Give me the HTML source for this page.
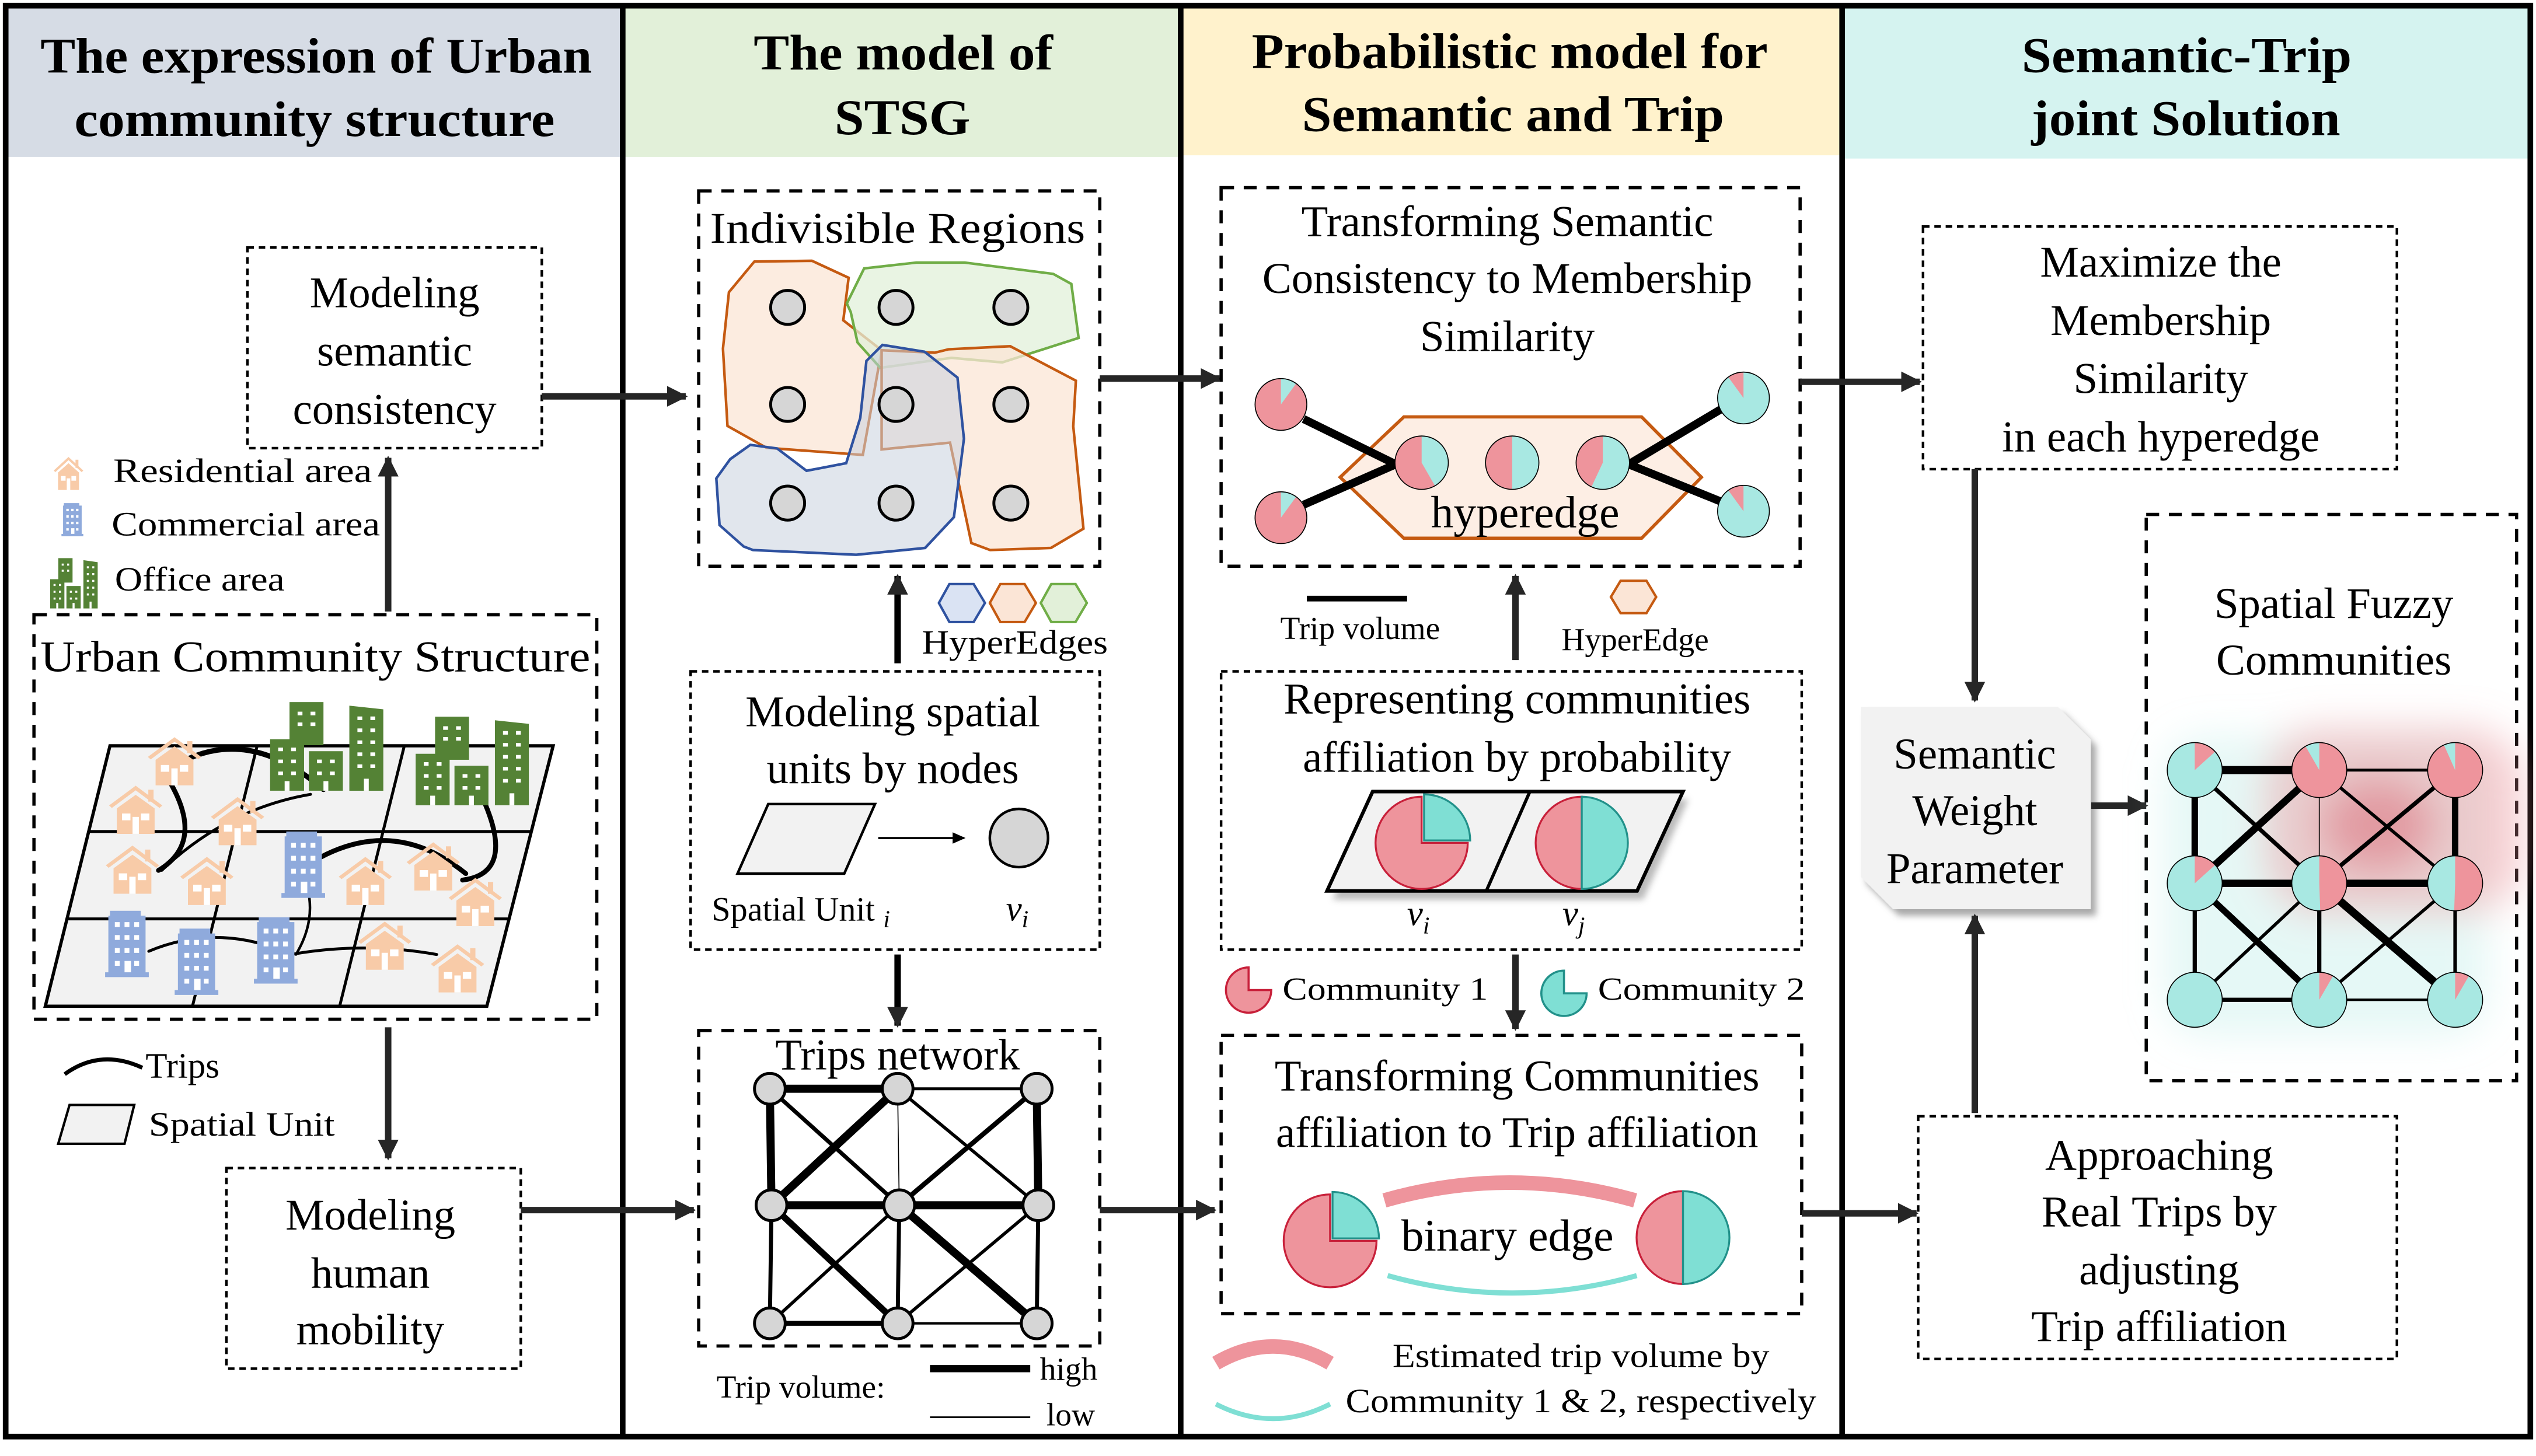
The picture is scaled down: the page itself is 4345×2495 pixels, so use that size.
<!DOCTYPE html>
<html><head><meta charset="utf-8">
<style>
html,body{margin:0;padding:0;background:#fff;}
svg{display:block;}
text{font-family:"Liberation Serif",serif;fill:#000;}
</style></head>
<body>
<svg xmlns="http://www.w3.org/2000/svg" width="4345" height="2495" viewBox="0 0 1568 900" preserveAspectRatio="none" font-family="Liberation Serif, serif">
<defs>
<marker id="ah" viewBox="0 0 10 10" refX="9" refY="5" markerWidth="3.2" markerHeight="3.2" orient="auto-start-reverse">
<path d="M0,0 L10,5 L0,10 Z" fill="#262626"/></marker>
<filter id="blurP" x="-50%" y="-50%" width="200%" height="200%"><feGaussianBlur stdDeviation="12"/></filter>
<filter id="blurS" x="-20%" y="-20%" width="140%" height="140%"><feGaussianBlur stdDeviation="2"/></filter>
<g id="house">
<path d="M1,13 L13,2 L25,13" fill="none" stroke="#f8cba8" stroke-width="2"/>
<rect x="19" y="3" width="2.5" height="7" fill="#f8cba8"/>
<path d="M4,14 L13,6 L22,14 V29 H4Z" fill="#f8cba8"/>
<rect x="6.5" y="17" width="4" height="4" fill="#fff"/><rect x="15.5" y="17" width="4" height="4" fill="#fff"/>
<rect x="11.5" y="19" width="3" height="10" fill="#fff"/>
</g>
<g id="blueb">
<path d="M3,2 H22 V5 H25 V40 H27 V43 H0 V40 H2 V5 H3Z" fill="#8faadc"/>
<g fill="#fff"><rect x="6" y="9" width="3" height="3"/><rect x="12" y="9" width="3" height="3"/><rect x="18" y="9" width="3" height="3"/>
<rect x="6" y="17" width="3" height="3"/><rect x="12" y="17" width="3" height="3"/><rect x="18" y="17" width="3" height="3"/>
<rect x="6" y="25" width="3" height="3"/><rect x="12" y="25" width="3" height="3"/><rect x="18" y="25" width="3" height="3"/>
<rect x="6" y="33" width="3" height="3"/><rect x="12" y="33" width="4" height="7"/><rect x="18" y="33" width="3" height="3"/></g>
</g>
<g id="greenb">
<rect x="12" y="0" width="21" height="36" fill="#548235"/>
<rect x="0" y="31" width="21" height="43" fill="#548235"/>
<rect x="24" y="41" width="21" height="33" fill="#548235"/>
<path d="M49,3 L70,6 V74 H49Z" fill="#548235"/>
<g fill="#fff"><rect x="17" y="8" width="3" height="3"/><rect x="25" y="8" width="3" height="3"/><rect x="17" y="17" width="3" height="3"/><rect x="25" y="17" width="3" height="3"/>
<rect x="5" y="38" width="3" height="3"/><rect x="13" y="38" width="3" height="3"/><rect x="5" y="48" width="3" height="3"/><rect x="13" y="48" width="3" height="3"/><rect x="5" y="58" width="3" height="3"/><rect x="13" y="58" width="3" height="3"/><rect x="9" y="66" width="3" height="8"/>
<rect x="29" y="48" width="3" height="3"/><rect x="37" y="48" width="3" height="3"/><rect x="29" y="58" width="3" height="3"/><rect x="37" y="58" width="3" height="3"/><rect x="33" y="66" width="3" height="8"/>
<rect x="54" y="12" width="3" height="3"/><rect x="62" y="12" width="3" height="3"/><rect x="54" y="22" width="3" height="3"/><rect x="62" y="22" width="3" height="3"/><rect x="54" y="32" width="3" height="3"/><rect x="62" y="32" width="3" height="3"/><rect x="54" y="42" width="3" height="3"/><rect x="62" y="42" width="3" height="3"/><rect x="54" y="52" width="3" height="3"/><rect x="62" y="52" width="3" height="3"/><rect x="58" y="64" width="3" height="10"/></g>
</g>
</defs>

<rect x="3" y="5" width="383" height="92" fill="#d6dce5"/>
<rect x="386" y="5" width="344" height="92" fill="#e2f0d9"/>
<rect x="730" y="5" width="409" height="91" fill="#fff2cc"/>
<rect x="1139" y="5" width="426" height="93" fill="#d5f3f0"/>

<rect x="3.5" y="3.5" width="1561" height="884.5" fill="none" stroke="#000" stroke-width="3.5"/>
<line x1="385" y1="3" x2="385" y2="888" stroke="#000" stroke-width="3.5"/>
<line x1="730" y1="3" x2="730" y2="888" stroke="#000" stroke-width="3.5"/>
<line x1="1139" y1="3" x2="1139" y2="888" stroke="#000" stroke-width="3.5"/>

<g font-weight="bold" font-size="31">
<text x="25" y="45" textLength="341" lengthAdjust="spacingAndGlyphs">The expression of Urban</text>
<text x="46" y="84" textLength="297" lengthAdjust="spacingAndGlyphs">community structure</text>
<text x="466" y="43" textLength="185" lengthAdjust="spacingAndGlyphs">The model of</text>
<text x="516" y="83" textLength="84" lengthAdjust="spacingAndGlyphs">STSG</text>
<text x="774" y="42" textLength="319" lengthAdjust="spacingAndGlyphs">Probabilistic model for</text>
<text x="805" y="81" textLength="261" lengthAdjust="spacingAndGlyphs">Semantic and Trip</text>
<text x="1250" y="44.5" textLength="204" lengthAdjust="spacingAndGlyphs">Semantic-Trip</text>
<text x="1256" y="83.5" textLength="191" lengthAdjust="spacingAndGlyphs">joint Solution</text>
</g>

<!-- COLUMN 1 -->
<rect x="153" y="153" width="182" height="124" fill="none" stroke="#000" stroke-width="1.6" stroke-dasharray="4 3"/>
<g font-size="27" text-anchor="middle">
<text x="244" y="190">Modeling</text><text x="244" y="226">semantic</text><text x="244" y="262">consistency</text>
</g>
<line x1="335" y1="245" x2="424" y2="245" stroke="#262626" stroke-width="4" marker-end="url(#ah)"/>

<use href="#house" transform="translate(33,282) scale(0.72)"/>
<use href="#blueb" transform="translate(38,310) scale(0.5)"/>
<use href="#greenb" transform="translate(31,345) scale(0.42)"/>
<g font-size="21">
<text x="70" y="298" textLength="160" lengthAdjust="spacingAndGlyphs">Residential area</text>
<text x="69" y="331" textLength="166" lengthAdjust="spacingAndGlyphs">Commercial area</text>
<text x="71" y="365" textLength="105" lengthAdjust="spacingAndGlyphs">Office area</text>
</g>
<line x1="240" y1="378" x2="240" y2="283" stroke="#262626" stroke-width="4" marker-end="url(#ah)"/>

<rect x="21" y="380" width="348" height="250" fill="none" stroke="#000" stroke-width="2" stroke-dasharray="8 6"/>
<text x="195" y="415" font-size="27" text-anchor="middle" textLength="340" lengthAdjust="spacingAndGlyphs">Urban Community Structure</text>
<path d="M68,461 L342,461 L301,622 L28,622 Z" fill="#f2f2f2" stroke="#000" stroke-width="2"/>
<g stroke="#000" stroke-width="1.8" fill="none">
<line x1="55" y1="514" x2="328" y2="514"/>
<line x1="41" y1="568" x2="315" y2="568"/>
<line x1="159" y1="461" x2="119" y2="622"/>
<line x1="250" y1="461" x2="210" y2="622"/>
</g>
<g stroke="#000" fill="none" stroke-linecap="round">
<path d="M104,476 Q150,445 200,488" stroke-width="3.2"/>
<path d="M103,480 Q128,520 98,538" stroke-width="3"/>
<path d="M100,538 Q140,500 192,491" stroke-width="1.8"/>
<path d="M198,530 Q245,505 288,540" stroke-width="3"/>
<path d="M300,497 Q318,540 286,544" stroke-width="3"/>
<path d="M92,588 Q135,570 180,590 Q225,582 270,590" stroke-width="1.8"/>
<path d="M187,540 Q198,565 183,590" stroke-width="1.6"/>
</g>
<use href="#greenb" transform="translate(167,434) scale(1.0,0.74)"/>
<use href="#greenb" transform="translate(257,443) scale(1.0,0.74)"/>
<use href="#house" transform="translate(91,455) scale(1.3,1.05)"/>
<use href="#house" transform="translate(67,485) scale(1.3,1.05)"/>
<use href="#house" transform="translate(130,492) scale(1.3,1.05)"/>
<use href="#house" transform="translate(65,522) scale(1.3,1.05)"/>
<use href="#house" transform="translate(111,529) scale(1.3,1.05)"/>
<use href="#house" transform="translate(209,529) scale(1.3,1.05)"/>
<use href="#house" transform="translate(251,520) scale(1.3,1.05)"/>
<use href="#house" transform="translate(277,542) scale(1.3,1.05)"/>
<use href="#house" transform="translate(221,569) scale(1.3,1.05)"/>
<use href="#house" transform="translate(266,583) scale(1.3,1.05)"/>
<use href="#blueb" transform="translate(174,512)"/>
<use href="#blueb" transform="translate(65,561)"/>
<use href="#blueb" transform="translate(108,572)"/>
<use href="#blueb" transform="translate(157,565)"/>

<path d="M40,664 Q62,648 88,660" stroke="#000" stroke-width="2.5" fill="none"/>
<text x="90" y="666" font-size="22">Trips</text>
<path d="M43,683 L83,683 L77,707 L36,707 Z" fill="#f2f2f2" stroke="#000" stroke-width="1.5"/>
<text x="92" y="702" font-size="21" textLength="115" lengthAdjust="spacingAndGlyphs">Spatial Unit</text>

<line x1="240" y1="635" x2="240" y2="716" stroke="#262626" stroke-width="4" marker-end="url(#ah)"/>
<rect x="140" y="722" width="182" height="124" fill="none" stroke="#000" stroke-width="1.6" stroke-dasharray="4 3"/>
<g font-size="27" text-anchor="middle">
<text x="229" y="760">Modeling</text><text x="229" y="796">human</text><text x="229" y="831">mobility</text>
</g>
<line x1="322" y1="748" x2="429" y2="748" stroke="#262626" stroke-width="4" marker-end="url(#ah)"/>

<!-- COLUMN 2 -->
<rect x="432" y="118" width="248" height="232" fill="none" stroke="#000" stroke-width="2" stroke-dasharray="8 6"/>
<text x="555" y="150" font-size="27" text-anchor="middle" textLength="232" lengthAdjust="spacingAndGlyphs">Indivisible Regions</text>
<polygon points="466.4,161.7 502,161.2 524.7,171.7 521.4,198 545.1,216.5 533.5,281.2 473.9,276.8 449.8,263.3 447,215.5 450.7,180.6" fill="#fbe5d6" fill-opacity="0.75" stroke="#c55a11" stroke-width="1.6"/>
<polygon points="534.3,165.9 566.6,162.3 596.5,162.3 651.2,169.3 662.4,175.5 666.9,208.9 619.7,224 588.2,221.2 544.3,227.4 530.2,211.7 526,192.9 523.6,187.6" fill="#e2f0d9" fill-opacity="0.75" stroke="#70ad47" stroke-width="1.6"/>
<polygon points="545.1,216.5 577.9,218 586.5,215.9 624.6,214 665.2,235.3 663.6,263.6 669.9,326.8 649.8,338.7 612.2,340 600.6,335.7 587.4,273.6 545.1,277.8" fill="#fbe5d6" fill-opacity="0.75" stroke="#c55a11" stroke-width="1.6"/>
<polygon points="545.6,213.2 571.6,217.4 592,233.4 596,271.2 589.8,319.7 572,338.7 529.4,342.9 465.6,340 459.8,337.8 444.9,324.6 442.9,295.7 451.5,283.8 463.9,275 480.5,277.2 498.7,291 523.2,286.3 531.9,258.3 535.7,223.1" fill="#c9d1de" fill-opacity="0.55" stroke="#2f52a0" stroke-width="1.6"/>
<g fill="#d6d6d6" stroke="#000" stroke-width="1.8">
<circle cx="487" cy="190" r="10.5"/><circle cx="554" cy="190" r="10.5"/><circle cx="625" cy="190" r="10.5"/>
<circle cx="487" cy="250" r="10.5"/><circle cx="554" cy="250" r="10.5"/><circle cx="625" cy="250" r="10.5"/>
<circle cx="487" cy="311" r="10.5"/><circle cx="554" cy="311" r="10.5"/><circle cx="625" cy="311" r="10.5"/>
</g>
<polygon points="580.5,372.7 587,361 602,361 609,372.7 602,384.5 587,384.5" fill="#dae3f3" stroke="#2f52a0" stroke-width="1.5"/>
<polygon points="612,372.7 618.5,361 633.5,361 640.5,372.7 633.5,384.5 618.5,384.5" fill="#fbe5d6" stroke="#c55a11" stroke-width="1.5"/>
<polygon points="643.5,372.7 650,361 665,361 672,372.7 665,384.5 650,384.5" fill="#e2f0d9" stroke="#70ad47" stroke-width="1.5"/>
<text x="570" y="404" font-size="21" textLength="115" lengthAdjust="spacingAndGlyphs">HyperEdges</text>
<line x1="555" y1="410" x2="555" y2="356" stroke="#000" stroke-width="4" marker-end="url(#ah)"/>

<rect x="427" y="415" width="253" height="172" fill="none" stroke="#000" stroke-width="1.6" stroke-dasharray="4 3"/>
<g font-size="27" text-anchor="middle"><text x="552" y="449">Modeling spatial</text><text x="552" y="484">units by nodes</text></g>
<path d="M475,497 L541,497 L522,540 L456,540 Z" fill="#f2f2f2" stroke="#000" stroke-width="1.6"/>
<line x1="543" y1="518" x2="596" y2="518" stroke="#000" stroke-width="1.3"/>
<path d="M597,518 L589,514.5 L589,521.5 Z" fill="#000"/>
<circle cx="630" cy="518" r="18" fill="#d6d6d6" stroke="#000" stroke-width="1.6"/>
<text x="440" y="569" font-size="21">Spatial Unit <tspan font-style="italic" font-size="15" dy="4">i</tspan></text>
<text x="622" y="569" font-size="22" font-style="italic">v<tspan font-size="15" dy="4">i</tspan></text>
<line x1="555" y1="590" x2="555" y2="634" stroke="#000" stroke-width="4" marker-end="url(#ah)"/>

<rect x="432" y="637" width="248" height="195" fill="none" stroke="#000" stroke-width="2" stroke-dasharray="8 6"/>
<text x="555" y="661" font-size="27" text-anchor="middle">Trips network</text>
<g stroke="#000" stroke-linecap="round">
<line x1="476" y1="673" x2="555" y2="673" stroke-width="5"/>
<line x1="555" y1="673" x2="641" y2="673" stroke-width="1.8"/>
<line x1="476" y1="673" x2="477" y2="745" stroke-width="5"/>
<line x1="641" y1="673" x2="642" y2="745" stroke-width="5"/>
<line x1="555" y1="673" x2="556" y2="745" stroke-width="0.6"/>
<line x1="476" y1="673" x2="556" y2="745" stroke-width="2.5"/>
<line x1="555" y1="673" x2="477" y2="745" stroke-width="5"/>
<line x1="555" y1="673" x2="642" y2="745" stroke-width="2"/>
<line x1="641" y1="673" x2="556" y2="745" stroke-width="3"/>
<line x1="477" y1="745" x2="642" y2="745" stroke-width="5"/>
<line x1="477" y1="745" x2="476" y2="818" stroke-width="2.5"/>
<line x1="556" y1="745" x2="555" y2="818" stroke-width="2.5"/>
<line x1="642" y1="745" x2="641" y2="818" stroke-width="2.5"/>
<line x1="477" y1="745" x2="555" y2="818" stroke-width="4"/>
<line x1="556" y1="745" x2="476" y2="818" stroke-width="2"/>
<line x1="556" y1="745" x2="641" y2="818" stroke-width="5"/>
<line x1="642" y1="745" x2="555" y2="818" stroke-width="2"/>
<line x1="476" y1="818" x2="555" y2="818" stroke-width="3"/>
<line x1="555" y1="818" x2="641" y2="818" stroke-width="1.5"/>
</g>
<g fill="#d6d6d6" stroke="#000" stroke-width="1.8">
<circle cx="476" cy="673" r="9.5"/><circle cx="555" cy="673" r="9.5"/><circle cx="641" cy="673" r="9.5"/>
<circle cx="477" cy="745" r="9.5"/><circle cx="556" cy="745" r="9.5"/><circle cx="642" cy="745" r="9.5"/>
<circle cx="476" cy="818" r="9.5"/><circle cx="555" cy="818" r="9.5"/><circle cx="641" cy="818" r="9.5"/>
</g>
<text x="443" y="864" font-size="20">Trip volume:</text>
<line x1="575" y1="846" x2="637" y2="846" stroke="#000" stroke-width="4.5"/>
<line x1="575" y1="876" x2="637" y2="876" stroke="#000" stroke-width="1"/>
<text x="643" y="853" font-size="20">high</text>
<text x="647" y="881" font-size="20">low</text>

<line x1="680" y1="234" x2="754" y2="234" stroke="#262626" stroke-width="4" marker-end="url(#ah)"/>
<line x1="680" y1="748" x2="751" y2="748" stroke="#262626" stroke-width="4" marker-end="url(#ah)"/>

<!-- COLUMN 3 -->
<rect x="755" y="116" width="358" height="234" fill="none" stroke="#000" stroke-width="2" stroke-dasharray="8 6"/>
<g font-size="27" text-anchor="middle">
<text x="932" y="146">Transforming Semantic</text>
<text x="932" y="181">Consistency to Membership</text>
<text x="932" y="217">Similarity</text>
</g>
<polygon points="828.6,295 868,257.7 1015,257.7 1052,295 1015,332.7 868,332.7" fill="#fdeee4" stroke="#c55a11" stroke-width="2"/>
<g stroke="#000" stroke-width="5">
<line x1="806" y1="259" x2="863" y2="287"/><line x1="806" y1="312" x2="863" y2="287"/>
<line x1="1064" y1="253" x2="1007" y2="287"/><line x1="1064" y1="310" x2="1007" y2="287"/>
</g>
<text x="943" y="326" font-size="28" text-anchor="middle">hyperedge</text>
<g id="pies"></g>
<line x1="808" y1="370" x2="870" y2="370" stroke="#000" stroke-width="3.5"/>
<text x="841" y="395" font-size="20" text-anchor="middle">Trip volume</text>
<polygon points="996,369 1002,359 1018,359 1024,369 1018,379 1002,379" fill="#fbe5d6" stroke="#c55a11" stroke-width="1.5"/>
<text x="1011" y="402" font-size="20" text-anchor="middle">HyperEdge</text>
<line x1="937" y1="408" x2="937" y2="356" stroke="#262626" stroke-width="4" marker-end="url(#ah)"/>

<rect x="755" y="415" width="359" height="172" fill="none" stroke="#000" stroke-width="1.6" stroke-dasharray="4 3"/>
<g font-size="27" text-anchor="middle">
<text x="938" y="441">Representing communities</text>
<text x="938" y="477">affiliation by probability</text>
</g>
<g filter="url(#blurS)" opacity="0.5"><path d="M852,494 L1044,494 L1016,556 L824,556 Z" fill="#777"/></g>
<path d="M848.7,489.3 L1040.6,489.3 L1012.2,550.7 L820.5,550.7 Z" fill="#f2f2f2" stroke="#000" stroke-width="2.2"/>
<line x1="945.6" y1="490" x2="919.3" y2="550" stroke="#000" stroke-width="2"/>
<g id="pies3"></g>
<text x="870" y="572" font-size="22" font-style="italic">v<tspan font-size="15" dy="5">i</tspan></text>
<text x="966" y="572" font-size="22" font-style="italic">v<tspan font-size="15" dy="5">j</tspan></text>
<g font-size="20">
<text x="793" y="618" textLength="127" lengthAdjust="spacingAndGlyphs">Community 1</text>
<text x="988" y="618" textLength="128" lengthAdjust="spacingAndGlyphs">Community 2</text>
</g>
<line x1="937" y1="590" x2="937" y2="636" stroke="#262626" stroke-width="4" marker-end="url(#ah)"/>

<rect x="755" y="640" width="359" height="172" fill="none" stroke="#000" stroke-width="2" stroke-dasharray="8 6"/>
<g font-size="27" text-anchor="middle">
<text x="938" y="674">Transforming Communities</text>
<text x="938" y="709">affiliation to Trip affiliation</text>
</g>
<path d="M856,742 Q933,720 1011,742" stroke="#ee949c" stroke-width="9" fill="none"/>
<path d="M858,788.5 Q935,810 1012,788.5" stroke="#7fdfd4" stroke-width="3.2" fill="none"/>
<text x="932" y="773" font-size="28" text-anchor="middle">binary edge</text>
<path d="M751.8,842.6 Q787,822 822.4,842.6" stroke="#ee949c" stroke-width="9" fill="none"/>
<path d="M751.8,867.9 Q787,886 822.4,867.9" stroke="#7fdfd4" stroke-width="3" fill="none"/>
<g font-size="21">
<text x="861" y="845" textLength="233" lengthAdjust="spacingAndGlyphs">Estimated trip volume by</text>
<text x="832" y="873" textLength="291" lengthAdjust="spacingAndGlyphs">Community 1 &amp; 2, respectively</text>
</g>

<line x1="1113" y1="236" x2="1187" y2="236" stroke="#262626" stroke-width="4" marker-end="url(#ah)"/>
<line x1="1114" y1="750" x2="1185" y2="750" stroke="#262626" stroke-width="4" marker-end="url(#ah)"/>

<!-- COLUMN 4 -->
<rect x="1189" y="140" width="293" height="150" fill="none" stroke="#000" stroke-width="1.6" stroke-dasharray="4 3"/>
<g font-size="27" text-anchor="middle">
<text x="1336" y="171">Maximize the</text><text x="1336" y="207">Membership</text>
<text x="1336" y="243">Similarity</text><text x="1336" y="279">in each hyperedge</text>
</g>
<line x1="1221" y1="290" x2="1221" y2="433" stroke="#262626" stroke-width="4" marker-end="url(#ah)"/>
<g filter="url(#blurS)" opacity="0.5"><path d="M1154,441 H1276 L1296,461 V566 H1174 L1154,546 Z" fill="#555"/></g>
<path d="M1150.5,437 H1272.5 L1292.7,457 V562 H1170.5 L1150.5,542 Z" fill="#f2f2f2"/>
<g font-size="27" text-anchor="middle">
<text x="1221" y="475">Semantic</text><text x="1221" y="510">Weight</text><text x="1221" y="546">Parameter</text>
</g>
<line x1="1293" y1="498" x2="1327" y2="498" stroke="#262626" stroke-width="4" marker-end="url(#ah)"/>
<line x1="1221" y1="688" x2="1221" y2="566" stroke="#262626" stroke-width="4" marker-end="url(#ah)"/>

<rect x="1186" y="690" width="296" height="150" fill="none" stroke="#000" stroke-width="1.6" stroke-dasharray="4 3"/>
<g font-size="27" text-anchor="middle">
<text x="1335" y="723">Approaching</text><text x="1335" y="758">Real Trips by</text>
<text x="1335" y="794">adjusting</text><text x="1335" y="829">Trip affiliation</text>
</g>

<rect x="1327" y="318" width="229" height="350" fill="none" stroke="#000" stroke-width="2" stroke-dasharray="8 6"/>
<g font-size="27" text-anchor="middle">
<text x="1443" y="382">Spatial Fuzzy</text><text x="1443" y="417">Communities</text>
</g>
<g filter="url(#blurP)">
<rect x="1338" y="455" width="200" height="185" rx="25" fill="#a8e8e2" opacity="0.3"/>
<rect x="1400" y="450" width="160" height="115" rx="35" fill="#ee949c" opacity="0.45"/>
<ellipse cx="1470" cy="510" rx="35" ry="28" fill="#d9606e" opacity="0.45"/>
</g>
<g stroke="#000" stroke-linecap="round">
<line x1="1357" y1="476" x2="1434" y2="476" stroke-width="5"/>
<line x1="1434" y1="476" x2="1518" y2="476" stroke-width="1.8"/>
<line x1="1357" y1="476" x2="1357" y2="546" stroke-width="4"/>
<line x1="1518" y1="476" x2="1518" y2="546" stroke-width="4"/>
<line x1="1434" y1="476" x2="1434" y2="546" stroke-width="0.6"/>
<line x1="1357" y1="476" x2="1434" y2="546" stroke-width="2.6"/>
<line x1="1434" y1="476" x2="1357" y2="546" stroke-width="4.5"/>
<line x1="1434" y1="476" x2="1518" y2="546" stroke-width="2"/>
<line x1="1518" y1="476" x2="1434" y2="546" stroke-width="2.6"/>
<line x1="1357" y1="546" x2="1518" y2="546" stroke-width="4.5"/>
<line x1="1357" y1="546" x2="1357" y2="618" stroke-width="2.6"/>
<line x1="1434" y1="546" x2="1434" y2="618" stroke-width="2.6"/>
<line x1="1518" y1="546" x2="1518" y2="618" stroke-width="2.2"/>
<line x1="1357" y1="546" x2="1434" y2="618" stroke-width="4"/>
<line x1="1434" y1="546" x2="1357" y2="618" stroke-width="2"/>
<line x1="1434" y1="546" x2="1518" y2="618" stroke-width="5"/>
<line x1="1518" y1="546" x2="1434" y2="618" stroke-width="2"/>
<line x1="1357" y1="618" x2="1434" y2="618" stroke-width="2.6"/>
<line x1="1434" y1="618" x2="1518" y2="618" stroke-width="1.5"/>
</g>
<g id="pies2"></g>
</svg>
<script>
var NS="http://www.w3.org/2000/svg";
var PK="#ee949c", CY="#a8e8e2", CY2="#7fdfd4";
function el(parent,tag,attrs){var e=document.createElementNS(NS,tag);for(var k in attrs)e.setAttribute(k,attrs[k]);parent.appendChild(e);return e;}
function wedge(cx,cy,r,a0,a1){
  var t0=a0*Math.PI/180,t1=a1*Math.PI/180;
  var x0=cx+r*Math.sin(t0),y0=cy-r*Math.cos(t0),x1=cx+r*Math.sin(t1),y1=cy-r*Math.cos(t1);
  var large=(a1-a0)>180?1:0;
  return "M"+cx+","+cy+" L"+x0+","+y0+" A"+r+","+r+" 0 "+large+" 1 "+x1+","+y1+" Z";
}
function pie(g,cx,cy,r,base,other,a0,a1,stroke,sw){
  el(g,"circle",{cx:cx,cy:cy,r:r,fill:base});
  if(a1>a0) el(g,"path",{d:wedge(cx,cy,r,a0,a1),fill:other});
  el(g,"circle",{cx:cx,cy:cy,r:r,fill:"none",stroke:stroke||"#000","stroke-width":sw||0.6});
}
var g=document.getElementById("pies");
pie(g,792,250,16,PK,CY,0,36);
pie(g,792,320,16,PK,CY,0,36);
pie(g,1078,246,16,CY,PK,324,360);
pie(g,1078,316,16,CY,PK,324,360);
pie(g,879,286,16.5,PK,CY,0,150);
pie(g,935,286,16.5,PK,CY,0,180);
pie(g,991,286,16.5,PK,CY,0,205);
function pie2(g,cx,cy,r,frac,explode){
  var a1=frac*360;
  el(g,"path",{d:wedge(cx,cy,r,a1,360),fill:PK,stroke:"#c8203a","stroke-width":1.2});
  var dx=explode?1.5:0;
  el(g,"path",{d:wedge(cx+dx,cy-dx,r,0,a1),fill:CY2,stroke:"#22918a","stroke-width":1.2});
}
var g3=document.getElementById("pies3");
pie2(g3,879,521,28.5,0.25,true);
pie2(g3,978,521,28.5,0.5,false);
pie2(g,822.4,767,28.7,0.25,true);
pie2(g,1040.6,765,28.7,0.5,false);
el(g,"path",{d:wedge(772,612,14,90,360),fill:PK,stroke:"#c8203a","stroke-width":1.3});
el(g,"path",{d:wedge(967,614,14,90,360),fill:CY2,stroke:"#22918a","stroke-width":1.3});
var g2=document.getElementById("pies2");
pie(g2,1357,476,17,CY,PK,0,48);
pie(g2,1434,476,17,PK,CY,330,360);
pie(g2,1518,476,17,PK,CY,336,360);
pie(g2,1357,546,17,CY,PK,0,48);
pie(g2,1434,546,17,CY,PK,0,178);
pie(g2,1518,546,17,CY,PK,0,182);
pie(g2,1357,618,17,CY,PK,0,0);
pie(g2,1434,618,17,CY,PK,0,30);
pie(g2,1518,618,17,CY,PK,0,30);
</script>
</body></html>
